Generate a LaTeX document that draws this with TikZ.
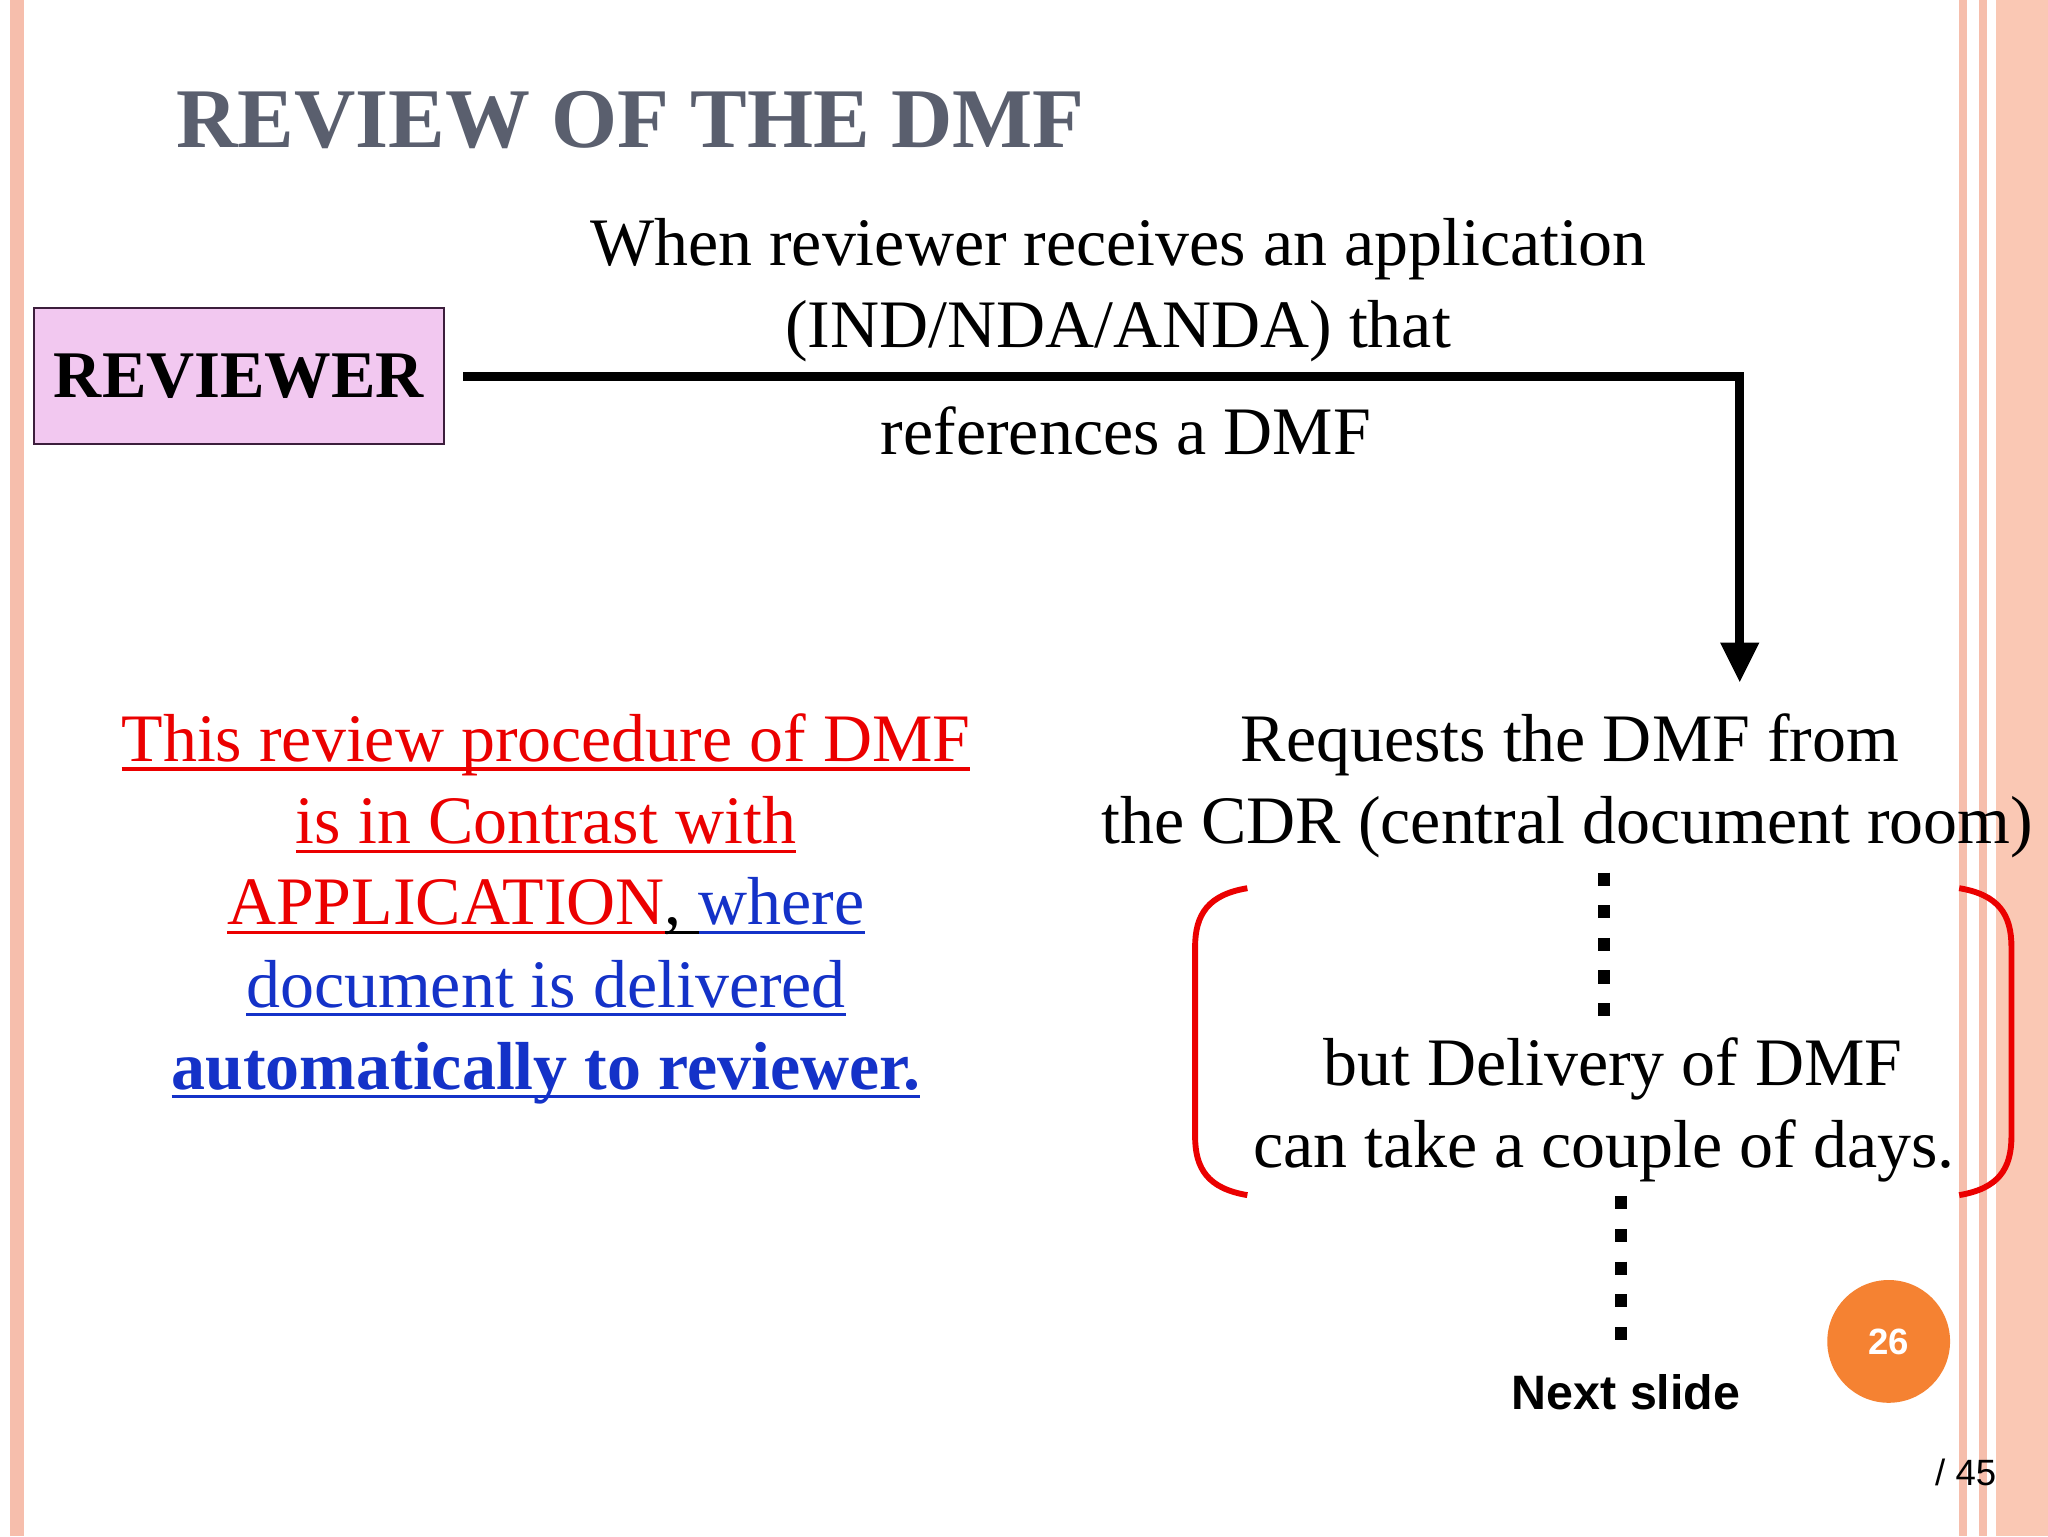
\documentclass[tikz,border=0pt]{standalone}
\usepackage{fontspec}
\setmainfont{Liberation Serif}
\newfontfamily\sans{Liberation Sans}
\definecolor{sred}{RGB}{235,0,0}
\definecolor{sblue}{RGB}{20,50,200}
\definecolor{stripe}{RGB}{246,190,172}
\definecolor{stripe2}{RGB}{250,200,180}
\definecolor{tgray}{RGB}{90,95,110}
\definecolor{rborder}{RGB}{60,30,60}
\definecolor{rfill}{RGB}{242,200,240}
\definecolor{orng}{RGB}{245,130,50}
\newsavebox\myubox
\newcommand\myul[1]{\sbox\myubox{#1}\rlap{\rule[-7pt]{\wd\myubox}{2.4pt}}\usebox\myubox}
\begin{document}
\begin{tikzpicture}[x=1pt,y=-1pt,
  txt/.style={font=\fontsize{52}{58}\selectfont, inner sep=0pt, anchor=base},
  red/.style={txt,text=sred},
  blu/.style={txt,text=sblue},
  dots/.style={line width=9pt, dash pattern=on 10pt off 15pt},
  brk/.style={line width=4.5pt, draw=sred}]
\useasboundingbox (0,0) rectangle (1568,1176);
\fill[white] (0,0) rectangle (1568,1176);
\fill[stripe] (8,0) rectangle (18,1176);
\fill[stripe] (1500,0) rectangle (1506,1176);
\fill[stripe] (1515,0) rectangle (1521,1176);
\fill[stripe2] (1528,0) rectangle (1568,1176);
\node[txt, anchor=base west, text=tgray, font=\fontsize{65}{70}\selectfont\bfseries] (title) at (135,113) {REVIEW OF THE DMF};
\node[draw=rborder, line width=1.5pt, fill=rfill, minimum width=314, minimum height=104, font=\fontsize{51}{56}\selectfont\bfseries, inner sep=0pt] (rev) at (183,288) {REVIEWER};
\coordinate (corner) at (1332,288);
\coordinate (tip) at (1332,522);
\draw[line width=7pt] (rev.east)++(14,0) -- (corner) -- ([yshift=28]tip);
\fill (1317,492) -- (1347,492) -- (tip) -- cycle;
\node[txt] (l1) at (856,203) {When reviewer receives an application};
\node[txt] (l2) at (856,266) {(IND/NDA/ANDA) that};
\node[txt] (l3) at (862,348) {references a DMF};
\node[red] (a1) at (418,583) {\myul{This review procedure of DMF}};
\node[red] (a2) at (418,646) {\myul{is in Contrast with}};
\node[txt] (a3) at (418,708) {\textcolor{sred}{\myul{APPLICATION}}\myul{,\ }\textcolor{sblue}{\myul{where}}};
\node[blu] (a4) at (418,771) {\myul{document is delivered}};
\node[blu, font=\fontsize{52}{58}\selectfont\bfseries] (a5) at (418,834) {\myul{automatically to reviewer.}};
\node[txt] (req) at (1202,583) {Requests the DMF from};
\node[txt] (cdr) at (1200,646) {the CDR (central document room)};
\coordinate (d1a) at (1228,668); \coordinate (d1b) at (1228,790);
\draw[dots] (d1a) -- (d1b);
\node[txt] (del) at (1235,831) {but Delivery of DMF};
\node[txt] (days) at (1228,894) {can take a couple of days.};
\draw[brk] (955,680) .. controls (925,685) and (915,700) .. (915,725) -- (915,870) .. controls (915,895) and (925,910) .. (955,915);
\draw[brk] (1500,680) .. controls (1530,685) and (1540,700) .. (1540,725) -- (1540,870) .. controls (1540,895) and (1530,910) .. (1500,915);
\coordinate (d2a) at (1241,916); \coordinate (d2b) at (1241,1040);
\draw[dots] (d2a) -- (d2b);
\node[txt, font=\fontsize{37}{40}\selectfont\sans\bfseries] (next) at (1245,1079) {Next slide};
\node[circle, fill=orng, minimum size=94, inner sep=0pt, text=white, font=\fontsize{28}{30}\selectfont\sans\bfseries] (pg) at (1446,1027) {26};
\node[txt, font=\fontsize{28}{30}\selectfont\sans] (tot) at (1505,1137) {/ 45};
\end{tikzpicture}
\end{document}
